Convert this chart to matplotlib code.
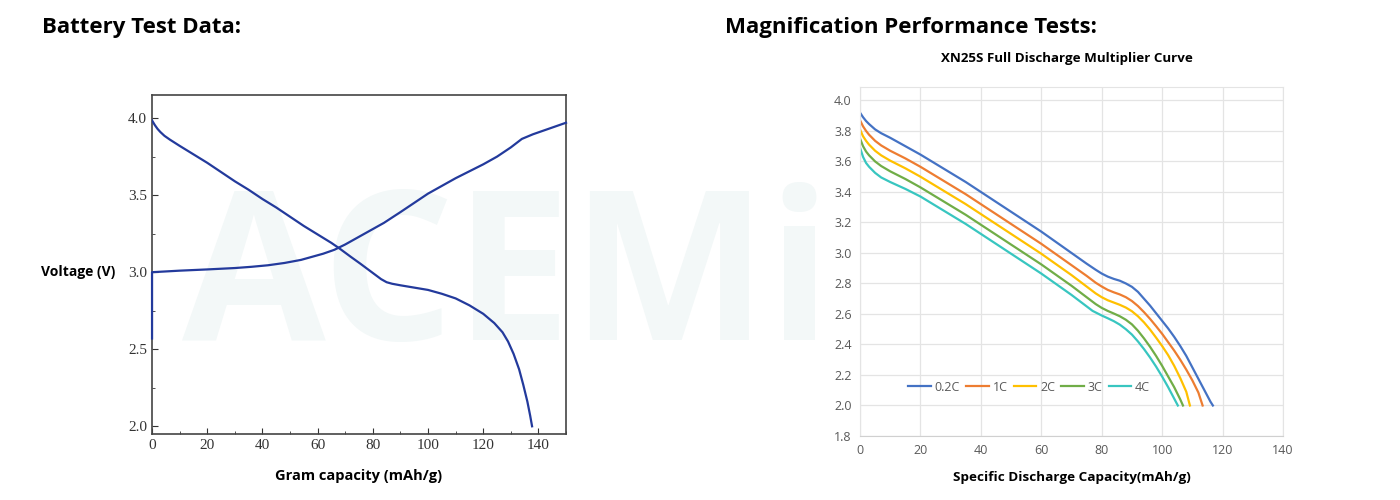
"""Battery test data + rate performance curves."""

import matplotlib
matplotlib.use("Agg")
import matplotlib.pyplot as plt
from matplotlib.ticker import MultipleLocator

# left chart: charge / discharge vs gram capacity
charge_x = [0, 0, 5, 10, 20, 30, 36, 42, 48, 54, 58, 62, 66, 70, 75, 80, 84, 90, 95, 100,
            105, 110, 115, 120, 125, 130, 134, 138, 142, 146, 150]
charge_y = [2.57, 3.00, 3.005, 3.01, 3.018, 3.027, 3.035, 3.045, 3.06, 3.08, 3.10, 3.12, 3.145,
            3.18, 3.23, 3.28, 3.32, 3.39, 3.45, 3.51, 3.56, 3.61, 3.655, 3.70, 3.75, 3.81,
            3.865, 3.895, 3.92, 3.945, 3.97]
discharge_x = [0, 1, 2, 3, 4.5, 6.5, 10, 15, 20, 25, 30, 35, 40, 45, 50, 55, 60, 65, 68, 72,
               75.5, 80, 83, 85, 87, 90, 95, 100, 105, 110, 115, 120, 124, 127, 129, 131,
               133, 134.5, 136, 137, 137.7]
discharge_y = [3.985, 3.955, 3.93, 3.91, 3.885, 3.86, 3.82, 3.765, 3.71, 3.65, 3.59, 3.535,
               3.475, 3.42, 3.36, 3.30, 3.245, 3.19, 3.153, 3.10, 3.055, 2.995, 2.955, 2.935,
               2.925, 2.915, 2.90, 2.885, 2.86, 2.83, 2.785, 2.73, 2.67, 2.61, 2.55, 2.47,
               2.37, 2.27, 2.16, 2.07, 2.00]

# right chart: discharge at different C-rates
rate_labels = ["0.2C", "1C", "2C", "3C", "4C"]
rate_colors = ["#4472C4", "#ED7D31", "#FFC000", "#70AD47", "#38C6C0"]
cap_02c = [0, 1, 2, 3, 5, 7, 10, 15, 20, 25, 30, 35, 40, 45, 50, 55, 60, 65, 70, 75, 78, 80,
           82, 84, 86, 88, 90, 92, 94, 96, 98, 100, 102, 104, 106, 108, 110, 112, 114, 116, 116.8]
v_02c = [3.92, 3.89, 3.865, 3.845, 3.81, 3.785, 3.755, 3.70, 3.645, 3.585, 3.525, 3.465, 3.40,
         3.335, 3.27, 3.205, 3.14, 3.07, 3.00, 2.93, 2.89, 2.865, 2.845, 2.83, 2.818, 2.80,
         2.778, 2.745, 2.70, 2.655, 2.605, 2.555, 2.505, 2.45, 2.39, 2.325, 2.25, 2.175, 2.10,
         2.025, 2.00]
cap_1c = [0, 1, 2, 3, 5, 7, 10, 15, 20, 25, 30, 35, 40, 45, 50, 55, 60, 65, 70, 75, 78, 80,
          82, 84, 86, 88, 90, 92, 94, 96, 98, 100, 102, 104, 106, 108, 110, 112, 113.4]
v_1c = [3.87, 3.83, 3.80, 3.775, 3.735, 3.705, 3.67, 3.62, 3.565, 3.505, 3.445, 3.385, 3.32,
        3.255, 3.19, 3.125, 3.06, 2.99, 2.92, 2.85, 2.805, 2.78, 2.758, 2.742, 2.728, 2.71,
        2.685, 2.652, 2.612, 2.568, 2.52, 2.47, 2.415, 2.36, 2.30, 2.235, 2.165, 2.085, 2.00]
cap_2c = [0, 1, 2, 3, 5, 7, 10, 15, 20, 25, 30, 35, 40, 45, 50, 55, 60, 65, 70, 75, 78, 80,
          82, 84, 86, 88, 90, 92, 94, 96, 98, 100, 102, 104, 106, 108, 109.2]
v_2c = [3.81, 3.765, 3.735, 3.71, 3.67, 3.64, 3.605, 3.555, 3.50, 3.44, 3.38, 3.32, 3.255,
        3.19, 3.125, 3.06, 2.995, 2.925, 2.855, 2.78, 2.735, 2.71, 2.69, 2.675, 2.66, 2.642,
        2.618, 2.585, 2.545, 2.498, 2.445, 2.39, 2.33, 2.26, 2.18, 2.09, 2.00]
cap_3c = [0, 1, 2, 3, 5, 7, 10, 15, 20, 25, 30, 35, 40, 45, 50, 55, 60, 65, 70, 75, 78, 80,
          82, 84, 86, 88, 90, 92, 94, 96, 98, 100, 102, 104, 106, 106.9]
v_3c = [3.75, 3.70, 3.665, 3.64, 3.60, 3.57, 3.535, 3.485, 3.43, 3.37, 3.31, 3.25, 3.185,
        3.12, 3.055, 2.99, 2.925, 2.855, 2.785, 2.71, 2.665, 2.64, 2.62, 2.603, 2.585, 2.562,
        2.532, 2.49, 2.44, 2.385, 2.325, 2.26, 2.19, 2.12, 2.04, 2.00]
cap_4c = [0, 1, 2, 3, 5, 7, 10, 15, 20, 25, 30, 35, 40, 45, 50, 55, 60, 65, 70, 75, 77, 80,
          82, 84, 86, 88, 90, 92, 94, 96, 98, 100, 102, 104, 105.2]
v_4c = [3.69, 3.63, 3.59, 3.565, 3.525, 3.495, 3.465, 3.42, 3.37, 3.31, 3.25, 3.19, 3.125,
        3.06, 2.995, 2.93, 2.865, 2.795, 2.725, 2.65, 2.62, 2.59, 2.572, 2.553, 2.53, 2.50,
        2.465, 2.42, 2.37, 2.315, 2.255, 2.19, 2.12, 2.045, 2.00]
rate_caps = [cap_02c, cap_1c, cap_2c, cap_3c, cap_4c]
rate_volts = [v_02c, v_1c, v_2c, v_3c, v_4c]

HEAD_FONT = ["Open Sans", "DejaVu Sans"]

fig = plt.figure(figsize=(14, 5), dpi=100)

# faint watermark behind both charts
fig.text(0.13, 0.32, "ACEMi", fontsize=150, fontweight="bold", color="#f3f8f8",
         family=HEAD_FONT, zorder=-5)

fig.text(0.030, 0.945, "Battery Test Data:", fontsize=16, fontweight="bold",
         family=HEAD_FONT, va="center")
fig.text(0.518, 0.945, "Magnification Performance Tests:", fontsize=16, fontweight="bold",
         family=HEAD_FONT, va="center")

# ---- left chart
ax1 = fig.add_axes([0.1086, 0.132, 0.2957, 0.678])
ax1.set_facecolor("none")
ax1.plot(charge_x, charge_y, color="#233a9c", lw=1.6, zorder=3, clip_on=False)
ax1.plot(discharge_x, discharge_y, color="#233a9c", lw=1.6, zorder=3)
ax1.set_xlim(0, 150)
ax1.set_ylim(1.95, 4.15)
ax1.xaxis.set_major_locator(MultipleLocator(20))
ax1.xaxis.set_minor_locator(MultipleLocator(10))
ax1.yaxis.set_major_locator(MultipleLocator(0.5))
ax1.yaxis.set_minor_locator(MultipleLocator(0.25))
ax1.yaxis.set_major_formatter(lambda v, p: f"{v:.1f}")
ax1.tick_params(which="both", direction="in", color="#333333")
ax1.tick_params(which="major", length=4)
ax1.tick_params(which="minor", length=2.5)
for lab in ax1.get_xticklabels() + ax1.get_yticklabels():
    lab.set_family(["Liberation Serif", "DejaVu Serif"])
    lab.set_fontsize(11)
    lab.set_color("#333333")
for sp in ax1.spines.values():
    sp.set_color("#444444")
    sp.set_linewidth(1.2)
ax1.set_xlabel("Gram capacity (mAh/g)", fontsize=10.5, fontweight="bold",
               family=HEAD_FONT, labelpad=12)
ax1.set_ylabel("Voltage (V)", fontsize=10, fontweight="bold", family=HEAD_FONT,
               rotation=0, ha="right", va="center")
ax1.yaxis.set_label_coords(-0.09, (3.0 - 1.95) / 2.2)

# ---- right chart
ax2 = fig.add_axes([0.6143, 0.128, 0.3021, 0.6986])
ax2.set_facecolor("none")
for caps, volts, lab, col in zip(rate_caps, rate_volts, rate_labels, rate_colors):
    ax2.plot(caps, volts, color=col, lw=1.6, label=lab, solid_joinstyle="round")
ax2.set_xlim(0, 140)
ax2.set_ylim(1.8, 4.09)
ax2.xaxis.set_major_locator(MultipleLocator(20))
ax2.yaxis.set_major_locator(MultipleLocator(0.2))
ax2.yaxis.set_major_formatter(lambda v, p: f"{v:.1f}")
ax2.grid(True, color="#e4e4e4", lw=0.9)
ax2.set_axisbelow(True)
ax2.tick_params(length=0, labelsize=9, labelcolor="#595959", pad=6)
for lab in ax2.get_xticklabels() + ax2.get_yticklabels():
    lab.set_family(HEAD_FONT)
for side in ["top", "right", "left"]:
    ax2.spines[side].set_color("#e4e4e4")
ax2.spines["bottom"].set_color("#d0d0d0")
ax2.set_title("XN25S Full Discharge Multiplier Curve", fontsize=9.6, fontweight="bold",
              family=HEAD_FONT, pad=18, x=0.49)
ax2.set_xlabel("Specific Discharge Capacity(mAh/g)", fontsize=9.7, fontweight="bold",
               family=HEAD_FONT, labelpad=10)
leg = ax2.legend(loc="center", bbox_to_anchor=(0.40, 0.14), ncol=5, frameon=False,
                 handlelength=1.8, handletextpad=0.3, columnspacing=0.5,
                 prop={"family": HEAD_FONT, "size": 9})
for t in leg.get_texts():
    t.set_color("#595959")

fig.savefig("out.png", dpi=100)
